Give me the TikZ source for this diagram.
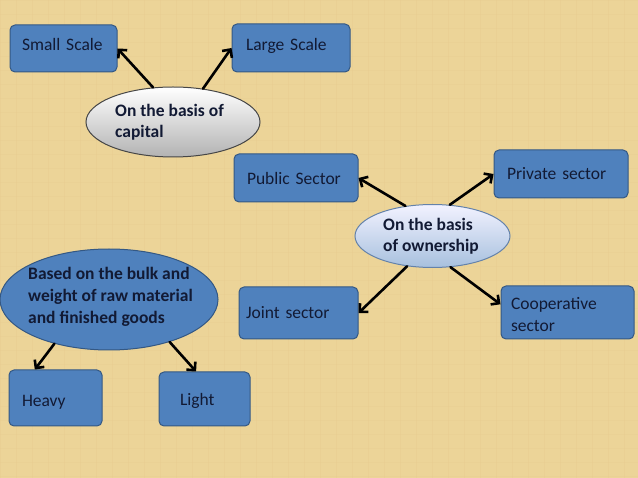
\documentclass[tikz,border=0pt]{standalone}
\usepackage{fontspec}
\setmainfont{Carlito}
\usetikzlibrary{shapes.geometric,arrows.meta}
\definecolor{bg}{RGB}{236,212,152}
\definecolor{boxfill}{RGB}{79,129,189}
\definecolor{boxline}{RGB}{52,88,132}
\definecolor{txt}{RGB}{18,26,52}
\definecolor{grayline}{RGB}{70,70,70}
\definecolor{blueline}{RGB}{100,130,170}
\tikzset{
  box/.style={draw=boxline, line width=1pt, fill=boxfill, rounded corners=5pt,
    align=left, text=txt, font=\fontsize{17.5pt}{22pt}\selectfont, inner ysep=0pt},
  oval/.style={ellipse, line width=1pt, inner sep=0pt},
  ovaltext/.style={text=txt, font=\bfseries\fontsize{17.5pt}{21pt}\selectfont, align=left, anchor=west, inner sep=0pt},
  arr/.style={-{Straight Barb[length=6pt,width=12pt]}, line width=2.6pt, black, line cap=round},
}
\begin{document}
\begin{tikzpicture}[x=1pt,y=-1pt]
\fill[bg] (0,0) rectangle (638,478);
\useasboundingbox (0,0) rectangle (638,478);
\foreach \i in {0,16,...,638} {\draw[bg!85!brown, opacity=0.25, line width=0.8pt] (\i,0) -- (\i,478);}
\foreach \i in {0,14,...,478} {\draw[bg!85!brown, opacity=0.2, line width=0.8pt] (0,\i) -- (638,\i);}

% boxes
\node[box, minimum height=47pt, text width=83pt, inner xsep=12pt, text height=12pt, text depth=7pt] (small) at (63.5,48.5) {Small Scale};
\node[box, minimum height=48pt, text width=90pt, inner xsep=14pt, text height=12pt, text depth=6pt] (large) at (291,48) {Large Scale};
\node[box, minimum height=48pt, text width=98pt, inner xsep=13pt] (public) at (296,178) {Public Sector};
\node[box, minimum height=48pt, text width=108pt, inner xsep=13pt] (private) at (561,174) {Private sector\\[4pt]};
\node[box, minimum height=52pt, text width=105pt, inner xsep=7pt, text height=16pt, text depth=4pt] (joint) at (298.5,313) {Joint sector};
\node[box, minimum height=53pt, text width=113pt, inner xsep=10pt, text height=12.5pt, text depth=18pt] (coop) at (567.5,312.5) {Cooperative\\sector};
\node[box, minimum height=56pt, text width=67pt, inner xsep=13pt, text height=22pt, text depth=4pt] (heavy) at (55.5,398) {Heavy};
\node[box, minimum height=54pt, text width=49pt, inner xsep=21pt, text height=18pt, text depth=4pt] (light) at (204.5,399) {Light};

% ellipses
\node[oval, draw=grayline, top color=white, bottom color=black!30, minimum width=174pt, minimum height=70pt] (capital) at (173,122) {};
\node[ovaltext] (capitaltxt) at (115,122) {On the basis of\\capital};

\node[oval, draw=blueline, top color=blue!5!white, bottom color=boxfill!50!white, minimum width=155pt, minimum height=63pt] (owner) at (432.5,236) {};
\node[ovaltext] (ownertxt) at (383,236) {On the basis\\of ownership};

\node[oval, draw=boxline, fill=boxfill, minimum width=218pt, minimum height=101pt] (bulk) at (109,299.5) {};
\node[ovaltext, font=\bfseries\fontsize{17.5pt}{22pt}\selectfont] (bulktxt) at (28,297) {Based on the bulk and\\weight of raw material\\and finished goods};

% arrows
\draw[arr] (capital.120) -- (small.east);
\draw[arr] (capital.48) -- (large.west);
\draw[arr] (owner.132) -- (public.east);
\draw[arr] (owner.61) -- (private.west);
\draw[arr] (owner.230) -- (joint.east);
\draw[arr] (owner.300) -- (coop.173);
\draw[arr] (bulk.219) -- (heavy.126);
\draw[arr] (bulk.325) -- (light.107);
\end{tikzpicture}
\end{document}
